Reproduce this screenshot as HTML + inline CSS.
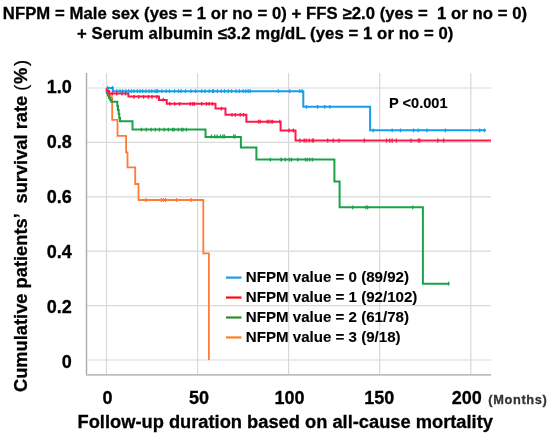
<!DOCTYPE html><html><head><meta charset="utf-8"><style>html,body{margin:0;padding:0;background:#fff;}svg{display:block;}text{font-family:"Liberation Sans",Arial,sans-serif;font-weight:bold;fill:#000;white-space:pre;stroke:#000;stroke-width:0.3px;}</style></head><body>
<svg width="550" height="435" viewBox="0 0 550 435">
<rect width="550" height="435" fill="#fff"/>
<path d="M86 360.0H491 M86 305.6H491 M86 251.2H491 M86 196.8H491 M86 142.4H491 M86 88.0H491 M106.5 73V375 M197.6 73V375 M288.6 73V375 M379.7 73V375 M470.8 73V375" stroke="#d9d9d9" stroke-width="1.2" fill="none"/>
<path d="M86.5 73V375" stroke="#b0b0b0" stroke-width="1.5" fill="none"/>
<path d="M86 374.8H491" stroke="#bfbfbf" stroke-width="1.8" fill="none"/>
<path d="M106.8 88H108V91H109.5V94H110.7V97.5H112.2V119.8H117.5V135.8H126.1V152.3H127.5V167.4H135.2V184H138.5V200H203.3V253.3H208.9V360" stroke="#ff7b38" stroke-width="1.8" fill="none"/>
<path d="M106.8 89V93H107.8V95.5H109V98H110.2V100H111.3V101.8H117.3V106H118V110H118.7V114H119.3V118H120V121.2H132.5V129.5H205.5V136.9H240.9V147.6H256.4V159.6H334.4V181.5H339.6V207.3H422.9V283.7H449.4" stroke="#1aa24a" stroke-width="2" fill="none"/>
<path d="M106.8 88V91H109V93.5H128.4V96.6H159V99.9H166.7V103.7H215.5V108.6H225.5V114.8H246.4V121.7H280.6V130.5H295.5V140.5H491" stroke="#fb1a4b" stroke-width="2" fill="none"/>
<path d="M106.8 88H112.8V91.2H303.3V106.8H370.1V130.3H486" stroke="#12a0ea" stroke-width="2" fill="none"/>
<path d="M107.6 86.1v3.8M112.5 86.1v3.8M116.8 89.3v3.8M120.0 89.3v3.8M122.7 89.3v3.8M125.9 89.3v3.8M128.6 89.3v3.8M131.4 89.3v3.8M134.0 89.3v3.8M137.3 89.3v3.8M140.0 89.3v3.8M142.7 89.3v3.8M145.9 89.3v3.8M149.1 89.3v3.8M151.8 89.3v3.8M155.0 89.3v3.8M157.7 89.3v3.8M156.8 89.3v3.8M161.8 89.3v3.8M166.1 89.3v3.8M169.5 89.3v3.8M174.5 89.3v3.8M178.5 89.3v3.8M181.0 89.3v3.8M185.5 89.3v3.8M190.9 89.3v3.8M195.5 89.3v3.8M201.6 89.3v3.8M204.9 89.3v3.8M209.3 89.3v3.8M212.6 89.3v3.8M213.6 89.3v3.8M217.4 89.3v3.8M221.3 89.3v3.8M224.5 89.3v3.8M228.4 89.3v3.8M231.6 89.3v3.8M236.0 89.3v3.8M239.3 89.3v3.8M243.1 89.3v3.8M245.8 89.3v3.8M248.2 89.3v3.8M250.2 89.3v3.8M278.4 89.3v3.8M289.7 89.3v3.8M299.7 89.3v3.8M302.1 89.3v3.8M306.5 104.9v3.8M317.5 104.9v3.8M324.7 104.9v3.8M329.8 104.9v3.8M373.3 128.4v3.8M392.2 128.4v3.8M400.5 128.4v3.8M413.5 128.4v3.8M418.2 128.4v3.8M426.9 128.4v3.8M445.4 128.4v3.8M479.7 128.4v3.8M484.4 128.4v3.8" stroke="#12a0ea" stroke-width="1.3" fill="none"/>
<path d="M112.4 91.7v3.8M116.6 91.7v3.8M122.0 91.7v3.8M125.6 91.7v3.8M134.0 94.9v3.8M138.8 94.9v3.8M143.6 94.9v3.8M148.4 94.9v3.8M152.0 94.9v3.8M156.8 94.9v3.8M163.3 97.7v3.8M169.8 101.9v3.8M174.7 101.9v3.8M179.6 101.9v3.8M190.3 101.9v3.8M192.7 101.9v3.8M194.4 101.9v3.8M201.7 101.9v3.8M206.6 101.9v3.8M209.1 101.9v3.8M212.4 101.9v3.8M221.4 106.8v3.8M232.0 112.9v3.8M235.3 112.9v3.8M240.2 112.9v3.8M243.5 112.9v3.8M258.5 119.7v3.8M260.2 119.7v3.8M267.3 119.7v3.8M268.9 119.7v3.8M271.1 119.7v3.8M272.7 119.7v3.8M279.8 119.7v3.8M289.0 128.6v3.8M293.4 128.6v3.8M299.8 138.6v3.8M304.2 138.6v3.8M306.1 138.6v3.8M309.1 138.6v3.8M312.4 138.6v3.8M313.5 138.6v3.8M327.6 138.6v3.8M333.3 138.6v3.8M339.0 138.6v3.8M364.4 138.6v3.8M386.5 138.6v3.8M389.7 138.6v3.8M392.2 138.6v3.8M396.3 138.6v3.8M411.0 138.6v3.8M418.4 138.6v3.8M419.8 138.6v3.8M437.8 138.6v3.8M443.6 138.6v3.8" stroke="#fb1a4b" stroke-width="1.3" fill="none"/>
<path d="M141.4 127.7v3.8M146.3 127.7v3.8M151.2 127.7v3.8M155.3 127.7v3.8M159.4 127.7v3.8M164.3 127.7v3.8M168.4 127.7v3.8M172.5 127.7v3.8M174.1 127.7v3.8M178.2 127.7v3.8M181.5 127.7v3.8M183.1 127.7v3.8M186.4 127.7v3.8M211.5 134.6v3.8M214.7 134.6v3.8M217.2 134.6v3.8M220.5 134.6v3.8M222.9 134.6v3.8M224.5 134.6v3.8M233.6 134.6v3.8M235.2 134.6v3.8M270.4 157.7v3.8M281.0 157.7v3.8M281.3 157.7v3.8M285.3 157.7v3.8M289.5 157.7v3.8M291.5 157.7v3.8M297.8 157.7v3.8M305.5 157.7v3.8M307.4 157.7v3.8M309.9 157.7v3.8M312.5 157.7v3.8M352.7 205.4v3.8M365.8 205.4v3.8M367.6 205.4v3.8M412.7 205.4v3.8M448.6 281.8v3.8" stroke="#1aa24a" stroke-width="1.3" fill="none"/>
<path d="M146.0 198.1v3.8M161.3 198.1v3.8M163.5 198.1v3.8M165.6 198.1v3.8M176.5 198.1v3.8M191.1 198.1v3.8" stroke="#ff7b38" stroke-width="1.3" fill="none"/>
<text x="2.8" y="19.2" font-size="16.7" textLength="524.3">NFPM = Male sex (yes = 1 or no = 0) + FFS ≥2.0 (yes =  1 or no = 0)</text>
<text x="77" y="38.9" font-size="16.7" textLength="376.4">+ Serum albumin ≤3.2 mg/dL (yes = 1 or no = 0)</text>
<text x="71.8" y="368.2" font-size="18" text-anchor="end">0</text>
<text x="71.8" y="313.2" font-size="18" text-anchor="end">0.2</text>
<text x="71.8" y="258.1" font-size="18" text-anchor="end">0.4</text>
<text x="71.8" y="203.1" font-size="18" text-anchor="end">0.6</text>
<text x="71.8" y="148.1" font-size="18" text-anchor="end">0.8</text>
<text x="71.8" y="93.0" font-size="18" text-anchor="end">1.0</text>
<text x="107.4" y="403.6" font-size="18" text-anchor="middle">0</text>
<text x="199" y="403.6" font-size="18" text-anchor="middle">50</text>
<text x="289.5" y="403.6" font-size="18" text-anchor="middle">100</text>
<text x="379.3" y="403.6" font-size="18" text-anchor="middle">150</text>
<text x="466.7" y="403.6" font-size="18" text-anchor="middle">200</text>
<text x="488.3" y="403.6" font-size="12.8" textLength="58.5" style="fill:#333;stroke:#333">(Months)</text>
<text x="77.5" y="428" font-size="18.3" >Follow-up duration based on all-cause mortality</text>
<text transform="translate(26.5,392) rotate(-90)" x="0" y="0" font-size="18.3">Cumulative patients’</text>
<text transform="translate(26.5,203.5) rotate(-90)" x="0" y="0" font-size="18.3">survival rate <tspan style="font-weight:normal;stroke-width:0.2px">(</tspan><tspan dx="0.6">%</tspan><tspan dx="1.8" style="font-weight:normal;stroke-width:0.2px">)</tspan></text>
<text x="389" y="107.6" font-size="15.2" textLength="58.6" lengthAdjust="spacingAndGlyphs" style="stroke-width:0.15px">P &lt;0.001</text>
<path d="M226 277.6H241.5" stroke="#1f9de3" stroke-width="2.2"/>
<text x="245.8" y="282.2" font-size="15.1" style="stroke-width:0.12px">NFPM value = 0 (89/92)</text>
<path d="M226 297.55H241.5" stroke="#ff0a0a" stroke-width="2.2"/>
<text x="245.8" y="302.2" font-size="15.1" style="stroke-width:0.12px">NFPM value = 1 (92/102)</text>
<path d="M226 317.5H241.5" stroke="#2e8b2e" stroke-width="2.2"/>
<text x="245.8" y="322.1" font-size="15.1" style="stroke-width:0.12px">NFPM value = 2 (61/78)</text>
<path d="M226 337.45000000000005H241.5" stroke="#ff7f27" stroke-width="2.2"/>
<text x="245.8" y="342.1" font-size="15.1" style="stroke-width:0.12px">NFPM value = 3 (9/18)</text>
</svg></body></html>
